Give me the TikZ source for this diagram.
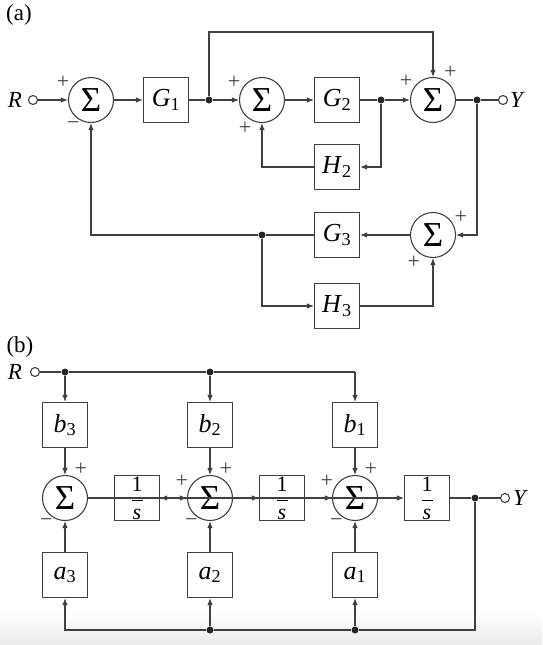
\documentclass[tikz,border=0pt]{standalone}
\usepackage{fontspec}
\setmainfont{Liberation Serif}
\usetikzlibrary{arrows.meta,calc}

\tikzset{
  wire/.style={line width=1.1pt, draw=black!75},
  arr/.style={wire, -{Latex[length=7pt,width=5.5pt]}},
  blk/.style={wire, draw, minimum width=45pt, minimum height=45pt, inner sep=0pt, font=\fontsize{26}{30}\selectfont},
  sumnode/.style={wire, draw, circle, minimum size=45pt, inner sep=0pt, font=\fontsize{35}{38}\selectfont},
  sig/.style={font=\fontsize{22}{24}\selectfont, inner sep=0pt, text=black!75, label distance=1pt},
  dot/.style={circle, fill=black!85, minimum size=7pt, inner sep=0pt},
  port/.style={circle, wire, draw, fill=white, minimum size=9pt, inner sep=0pt},
  tag/.style={font=\fontsize{23}{26}\selectfont, inner sep=0pt},
}
\newcommand{\gain}[2]{\textit{#1}\textsubscript{#2}}
\newcommand{\integ}{\fontsize{22}{24}\selectfont$\displaystyle\frac{\mbox{1}}{\mbox{\itshape s}}$}

\begin{document}
\begin{tikzpicture}[x=1pt, y=-1pt]
  \useasboundingbox (0,0) rectangle (542,645);
  \shade[top color=white, bottom color=black!8] (0,612) rectangle (542,645);

  % (a)
  \node[tag] (tA) at (19,15) {(a)};
  \node[tag] (labR) at (15,100) {\textit{R}};
  \node[port] (R) at (33,100) {};
  \node[sumnode, label={[sig]153:+}, label={[sig]-118:\textminus}] (s1) at (91,100) {Σ};
  \node[blk] (g1) at (166,100) {\gain{G}{1}};
  \node[dot] (j1) at (209,100) {};
  \node[sumnode, label={[sig]153:+}, label={[sig]-116:+}] (s2) at (262,100) {Σ};
  \node[blk] (g2) at (337,100) {\gain{G}{2}};
  \node[dot] (j2) at (381,100) {};
  \node[sumnode, label={[sig]149:+}, label={[sig]63:+}] (s3) at (433,100) {Σ};
  \node[dot] (j3) at (477,100) {};
  \node[port] (Y) at (503,100) {};
  \node[tag, anchor=west] (labY) at (510,100) {\textit{Y}};
  \node[blk] (h2) at (337,167) {\gain{H}{2}};
  \node[sumnode, label={[sig]27:+}, label={[sig]-122:+}] (s4) at (433,235) {Σ};
  \node[blk] (g3) at (337,235) {\gain{G}{3}};
  \node[dot] (j4) at (262,235) {};
  \node[blk] (h3) at (337,306) {\gain{H}{3}};
  \coordinate (top) at (300,32);

  \draw[arr] (R) -- (s1);
  \draw[arr] (s1) -- (g1);
  \draw[wire] (g1) -- (j1);
  \draw[arr] (j1) -- (s2);
  \draw[arr] (s2) -- (g2);
  \draw[wire] (g2) -- (j2);
  \draw[arr] (j2) -- (s3);
  \draw[wire] (s3) -- (j3) -- (Y);
  \draw[arr] (j1) -- (j1 |- top) -| (s3);
  \draw[arr] (j2) |- (h2);
  \draw[arr] (h2) -| (s2);
  \draw[arr] (j3) |- (s4);
  \draw[arr] (s4) -- (g3);
  \draw[wire] (g3) -- (j4);
  \draw[arr] (j4) -| (s1);
  \draw[arr] (j4) |- (h3);
  \draw[arr] (h3) -| (s4);

  % (b)
  \node[tag] (tB) at (20,347) {(b)};
  \node[tag] (labRb) at (15,372) {\textit{R}};
  \node[port] (Rb) at (35,372) {};
  \node[dot] (r3) at (65,372) {};
  \node[dot] (r2) at (210,372) {};
  \coordinate (r1) at (355,372);
  \foreach \i/\x in {3/65, 2/210, 1/355} {
    \node[blk] (b\i) at (\x,425) {\gain{b}{\i}};
    \node[blk] (a\i) at (\x,575) {\gain{a}{\i}};
  }
  \node[sumnode, label={[sig]67:+}, label={[sig]-121:\textminus}] (t3) at (65,498) {Σ};
  \node[sumnode, label={[sig]155:+}, label={[sig]67:+}, label={[sig]-121:\textminus}] (t2) at (210,498) {Σ};
  \node[sumnode, label={[sig]155:+}, label={[sig]67:+}, label={[sig]-121:\textminus}] (t1) at (355,498) {Σ};
  \node[blk] (i1) at (137,498) {\integ};
  \node[blk] (i2) at (282,498) {\integ};
  \node[blk] (i3) at (427,498) {\integ};
  \node[dot] (jo) at (475,498) {};
  \node[port] (Yb) at (505,498) {};
  \node[tag, anchor=west] (labYb) at (513,498) {\textit{Y}};
  \node[dot] (f2) at (210,630) {};
  \node[dot] (f1) at (355,630) {};

  \draw[wire] (Rb) -- (r3) -- (r2) -- (r1);
  \draw[arr] (r1) -- (b1);
  \draw[arr] (r2) -- (b2);
  \draw[arr] (r3) -- (b3);
  \foreach \i in {1,2,3} {
    \draw[arr] (b\i) -- (t\i);
    \draw[arr] (a\i) -- (t\i);
    \draw[arr] (t\i) -- (i\i);
  }
  \draw[arr] (i1) -- (t2);
  \draw[arr] (i2) -- (t1);
  \draw[wire] (i3) -- (jo) -- (Yb);
  \draw[wire] (jo) |- (f1) -- (f2);
  \draw[arr] (f1) -- (a1);
  \draw[arr] (f2) -- (a2);
  \draw[arr] (f2) -| (a3);
\end{tikzpicture}
\end{document}
